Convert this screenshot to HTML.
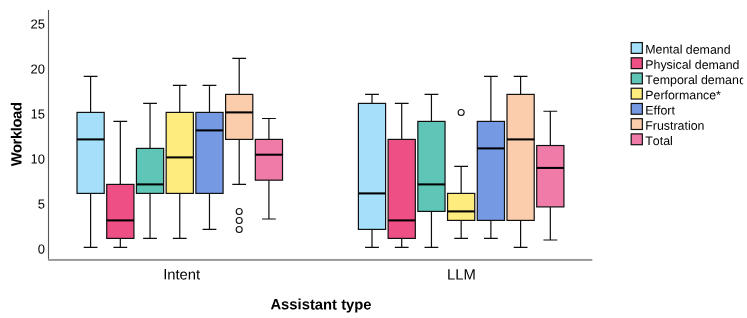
<!DOCTYPE html>
<html><head><meta charset="utf-8"><title>Workload by assistant type</title>
<style>
html,body{margin:0;padding:0;background:#fff;}
body{width:747px;height:318px;overflow:hidden;}
svg{display:block;font-family:"Liberation Sans",sans-serif;}
.w{stroke:#0d0d0d;stroke-width:1.2;fill:none}
.b{stroke:#111;stroke-width:1.2}
.m{stroke:#000;stroke-width:2.05;fill:none}
.o{stroke:#111;stroke-width:1.1;fill:none}
.t{font-size:13px;fill:#000}
.c{font-size:14.8px;fill:#000}
.h{font-size:14.8px;font-weight:bold;fill:#000}
.l{font-size:12.38px;fill:#000;font-kerning:none}
.ax{stroke:#8c8c8c;stroke-width:1.3;fill:none}
.ay{stroke:#555;stroke-width:1.1;fill:none}
</style></head><body>
<svg width="747" height="318" viewBox="0 0 747 318">
<defs><clipPath id="lc"><rect x="640" y="30" width="103.2" height="130"/></clipPath></defs>
<rect width="747" height="318" fill="#fff"/>
<path d="M90.60 76.40V112.40M90.60 193.40V247.40M83.70 76.40h13.8M83.70 247.40h13.8" class="w"/>
<rect x="77.00" y="112.40" width="27.2" height="81.00" fill="#A5DFF9" class="b"/>
<path d="M77.00 139.40h27.2" class="m"/>
<path d="M120.32 121.40V184.40M120.32 238.40V247.40M113.42 121.40h13.8M113.42 247.40h13.8" class="w"/>
<rect x="106.72" y="184.40" width="27.2" height="54.00" fill="#EE4F84" class="b"/>
<path d="M106.72 220.40h27.2" class="m"/>
<path d="M150.04 103.40V148.40M150.04 193.40V238.40M143.14 103.40h13.8M143.14 238.40h13.8" class="w"/>
<rect x="136.44" y="148.40" width="27.2" height="45.00" fill="#5FC5B7" class="b"/>
<path d="M136.44 184.40h27.2" class="m"/>
<path d="M179.76 85.40V112.40M179.76 193.40V238.40M172.86 85.40h13.8M172.86 238.40h13.8" class="w"/>
<rect x="166.16" y="112.40" width="27.2" height="81.00" fill="#FEEC7E" class="b"/>
<path d="M166.16 157.40h27.2" class="m"/>
<path d="M209.48 85.40V112.40M209.48 193.40V229.40M202.58 85.40h13.8M202.58 229.40h13.8" class="w"/>
<rect x="195.88" y="112.40" width="27.2" height="81.00" fill="#7699E4" class="b"/>
<path d="M195.88 130.40h27.2" class="m"/>
<path d="M239.20 58.40V94.40M239.20 139.40V184.40M232.30 58.40h13.8M232.30 184.40h13.8" class="w"/>
<rect x="225.60" y="94.40" width="27.2" height="45.00" fill="#FBCDAC" class="b"/>
<path d="M225.60 112.40h27.2" class="m"/>
<circle cx="239.20" cy="211.55" r="3" class="o"/>
<circle cx="239.20" cy="220.55" r="3" class="o"/>
<circle cx="239.20" cy="229.55" r="3" class="o"/>
<path d="M268.92 118.52V139.40M268.92 180.17V219.00M262.02 118.52h13.8M262.02 219.00h13.8" class="w"/>
<rect x="255.32" y="139.40" width="27.2" height="40.77" fill="#F07AA8" class="b"/>
<path d="M255.32 154.70h27.2" class="m"/>
<path d="M372.00 94.40V103.40M372.00 229.40V247.40M365.10 94.40h13.8M365.10 247.40h13.8" class="w"/>
<rect x="358.40" y="103.40" width="27.2" height="126.00" fill="#A5DFF9" class="b"/>
<path d="M358.40 193.40h27.2" class="m"/>
<path d="M401.72 103.40V139.40M401.72 238.40V247.40M394.82 103.40h13.8M394.82 247.40h13.8" class="w"/>
<rect x="388.12" y="139.40" width="27.2" height="99.00" fill="#EE4F84" class="b"/>
<path d="M388.12 220.40h27.2" class="m"/>
<path d="M431.44 94.40V121.40M431.44 211.40V247.40M424.54 94.40h13.8M424.54 247.40h13.8" class="w"/>
<rect x="417.84" y="121.40" width="27.2" height="90.00" fill="#5FC5B7" class="b"/>
<path d="M417.84 184.40h27.2" class="m"/>
<path d="M461.16 166.40V193.40M461.16 220.40V238.40M454.26 166.40h13.8M454.26 238.40h13.8" class="w"/>
<rect x="447.56" y="193.40" width="27.2" height="27.00" fill="#FEEC7E" class="b"/>
<path d="M447.56 211.40h27.2" class="m"/>
<circle cx="461.16" cy="112.55" r="3" class="o"/>
<path d="M490.88 76.40V121.40M490.88 220.40V238.40M483.98 76.40h13.8M483.98 238.40h13.8" class="w"/>
<rect x="477.28" y="121.40" width="27.2" height="99.00" fill="#7699E4" class="b"/>
<path d="M477.28 148.40h27.2" class="m"/>
<path d="M520.60 76.40V94.40M520.60 220.40V247.40M513.70 76.40h13.8M513.70 247.40h13.8" class="w"/>
<rect x="507.00" y="94.40" width="27.2" height="126.00" fill="#FBCDAC" class="b"/>
<path d="M507.00 139.40h27.2" class="m"/>
<path d="M550.32 111.23V145.52M550.32 206.90V240.02M543.42 111.23h13.8M543.42 240.02h13.8" class="w"/>
<rect x="536.72" y="145.52" width="27.2" height="61.38" fill="#F07AA8" class="b"/>
<path d="M536.72 167.93h27.2" class="m"/>
<path d="M48.5 10V260" class="ay"/>
<rect x="48" y="258.95" width="544.3" height="1.95" fill="#999"/>
<text x="44.9" y="253.6" text-anchor="end" class="t" transform="rotate(0.05 44.9 253.6)">0</text>
<text x="44.9" y="208.6" text-anchor="end" class="t" transform="rotate(0.05 44.9 208.6)">5</text>
<text x="44.9" y="163.6" text-anchor="end" class="t" transform="rotate(0.05 44.9 163.6)"><tspan style="font-family:'Noto Sans CJK JP','Liberation Sans',sans-serif">1</tspan>0</text>
<text x="44.9" y="118.6" text-anchor="end" class="t" transform="rotate(0.05 44.9 118.6)"><tspan style="font-family:'Noto Sans CJK JP','Liberation Sans',sans-serif">1</tspan>5</text>
<text x="44.9" y="73.6" text-anchor="end" class="t" transform="rotate(0.05 44.9 73.6)">20</text>
<text x="44.9" y="28.6" text-anchor="end" class="t" transform="rotate(0.05 44.9 28.6)">25</text>

<text x="181.7" y="279.4" text-anchor="middle" class="c" transform="rotate(0.05 181.7 279.4)">Intent</text>
<text x="461.4" y="279.4" text-anchor="middle" class="c" transform="rotate(0.05 461.4 279.4)">LLM</text>
<text x="321.0" y="309.4" text-anchor="middle" class="h" transform="rotate(0.05 321 309.4)">Assistant type</text>
<text transform="translate(21.6 134.4) rotate(-89.95)" text-anchor="middle" class="h" style="letter-spacing:-0.4px">Workload</text>
<rect x="631.2" y="42.58" width="11.15" height="10.8" fill="#A5DFF9" class="b"/>
<text x="645.25" y="53.60" class="l" clip-path="url(#lc)" transform="rotate(0.05 645.25 53.60)">Mental demand</text>
<rect x="631.2" y="57.80" width="11.15" height="10.8" fill="#EE4F84" class="b"/>
<text x="645.25" y="68.83" class="l" clip-path="url(#lc)" transform="rotate(0.05 645.25 68.83)">Physical demand</text>
<rect x="631.2" y="73.02" width="11.15" height="10.8" fill="#5FC5B7" class="b"/>
<text x="645.25" y="84.06" class="l" clip-path="url(#lc)" transform="rotate(0.05 645.25 84.06)">Temporal deman<tspan dx="0.4">d</tspan></text>
<rect x="631.2" y="88.24" width="11.15" height="10.8" fill="#FEEC7E" class="b"/>
<text x="645.25" y="99.29" class="l" clip-path="url(#lc)" transform="rotate(0.05 645.25 99.29)">Performance*</text>
<rect x="631.2" y="103.46" width="11.15" height="10.8" fill="#7699E4" class="b"/>
<text x="645.25" y="114.52" class="l" clip-path="url(#lc)" transform="rotate(0.05 645.25 114.52)">Effort</text>
<rect x="631.2" y="118.68" width="11.15" height="10.8" fill="#FBCDAC" class="b"/>
<text x="645.25" y="129.75" class="l" clip-path="url(#lc)" transform="rotate(0.05 645.25 129.75)">Frustration</text>
<rect x="631.2" y="133.90" width="11.15" height="10.8" fill="#F07AA8" class="b"/>
<text x="645.25" y="144.98" class="l" clip-path="url(#lc)" transform="rotate(0.05 645.25 144.98)">Total</text>

</svg>
</body></html>
